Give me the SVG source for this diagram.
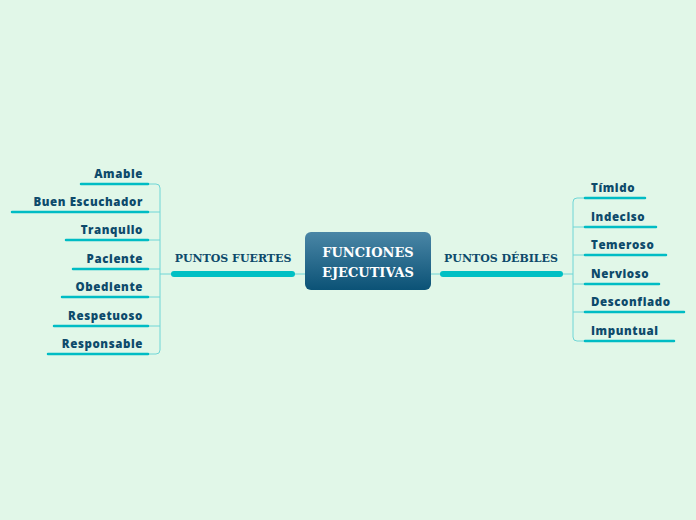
<svg xmlns="http://www.w3.org/2000/svg" width="696" height="520" viewBox="0 0 696 520">
<defs>
<linearGradient id="g" x1="0" y1="0" x2="0" y2="1"><stop offset="0" stop-color="#4a86a6"/><stop offset="1" stop-color="#0b5276"/></linearGradient>
<style>
.t{font-family:"Open Sans","DejaVu Sans",sans-serif;font-weight:800;font-size:11.5px;fill:#0d4a6b;letter-spacing:0.6px}
.m{font-family:"DejaVu Serif","Liberation Serif",serif;font-weight:bold;font-size:11px;fill:#0d4a6b}
.u{stroke:#00bcc4;stroke-width:2.5;fill:none;stroke-linecap:round}
.c{stroke:#6fd6d6;stroke-width:1;fill:none}
.b{stroke:#00c0c4;stroke-width:6;stroke-linecap:round}
</style>
</defs>
<rect width="696" height="520" fill="#e1f7e8"/>
<g id="connectors">
<path class="c" d="M292 274H305M431 274H443"/>
<path class="c" d="M174 274H160M148 184H156q4 0 4 4V350q0 4 -4 4H148M148 212H160M148 240H160M148 269H160M148 297H160M148 326H160"/>
<path class="c" d="M560 274H573M585 198H577q-4 0 -4 4V337q0 4 4 4H585M585 227H573M585 255H573M585 284H573M585 312H573"/>
</g>
<g id="center"><rect x="305" y="232" width="126" height="58" rx="6" fill="url(#g)"/>
<text x="368" y="257" text-anchor="middle" font-family="DejaVu Serif,serif" font-weight="bold" font-size="13" fill="#fff">FUNCIONES</text>
<text x="368" y="277" text-anchor="middle" font-family="DejaVu Serif,serif" font-weight="bold" font-size="13" fill="#fff">EJECUTIVAS</text></g>
<g id="fuertes"><line class="b" x1="174" y1="274" x2="292" y2="274"/><text class="m" x="233" y="262" text-anchor="middle">PUNTOS FUERTES</text></g>
<g id="debiles"><line class="b" x1="443" y1="274" x2="560" y2="274"/><text class="m" x="501" y="262" text-anchor="middle">PUNTOS DÉBILES</text></g>
<g id="amable"><line class="u" x1="81" y1="184" x2="148" y2="184"/><text class="t" x="143" y="178" text-anchor="end">Amable</text></g>
<g id="buen"><line class="u" x1="12" y1="212" x2="148" y2="212"/><text class="t" x="143" y="206" text-anchor="end">Buen Escuchador</text></g>
<g id="tranquilo"><line class="u" x1="66" y1="240" x2="148" y2="240"/><text class="t" x="143" y="234" text-anchor="end">Tranquilo</text></g>
<g id="paciente"><line class="u" x1="73" y1="269" x2="148" y2="269"/><text class="t" x="143" y="263" text-anchor="end">Paciente</text></g>
<g id="obediente"><line class="u" x1="62" y1="297" x2="148" y2="297"/><text class="t" x="143" y="291" text-anchor="end">Obediente</text></g>
<g id="respetuoso"><line class="u" x1="54" y1="326" x2="148" y2="326"/><text class="t" x="143" y="320" text-anchor="end">Respetuoso</text></g>
<g id="responsable"><line class="u" x1="48" y1="354" x2="148" y2="354"/><text class="t" x="143" y="348" text-anchor="end">Responsable</text></g>
<g id="timido"><line class="u" x1="585" y1="198" x2="645" y2="198"/><text class="t" x="591" y="192">Tímido</text></g>
<g id="indeciso"><line class="u" x1="585" y1="227" x2="656" y2="227"/><text class="t" x="591" y="221">Indeciso</text></g>
<g id="temeroso"><line class="u" x1="585" y1="255" x2="666" y2="255"/><text class="t" x="591" y="249">Temeroso</text></g>
<g id="nervioso"><line class="u" x1="585" y1="284" x2="659" y2="284"/><text class="t" x="591" y="278">Nervioso</text></g>
<g id="desconfiado"><line class="u" x1="585" y1="312" x2="684" y2="312"/><text class="t" x="591" y="306">Desconfiado</text></g>
<g id="impuntual"><line class="u" x1="585" y1="341" x2="674" y2="341"/><text class="t" x="591" y="335">Impuntual</text></g>
</svg>
